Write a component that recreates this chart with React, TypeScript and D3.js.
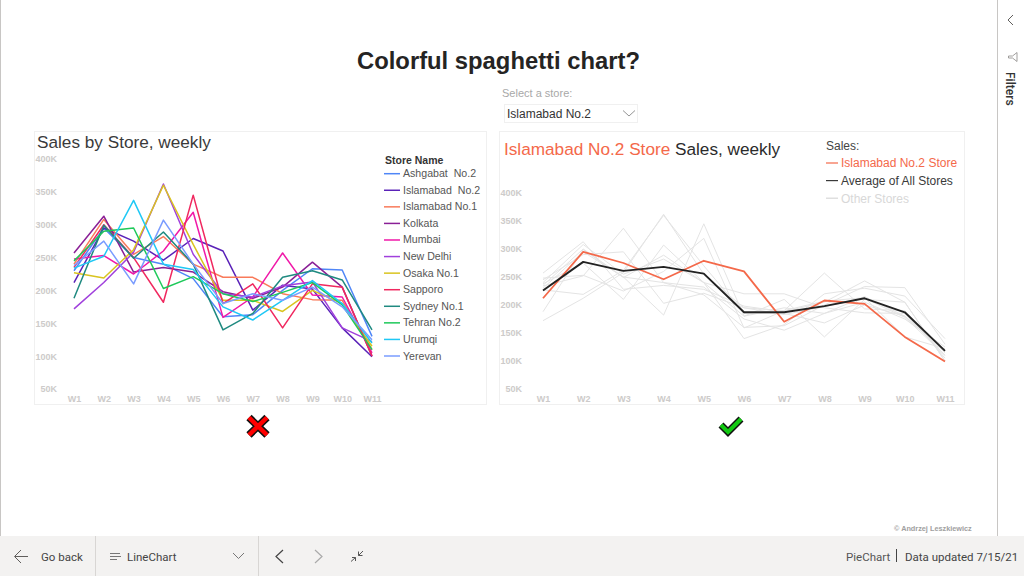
import React, { useEffect, useRef } from "react";
import * as d3 from "d3";

const weeks = ["W1", "W2", "W3", "W4", "W5", "W6", "W7", "W8", "W9", "W10", "W11"];
const yTicks = [50000, 100000, 150000, 200000, 250000, 300000, 350000, 400000];

const stores = [
  "Ashgabat  No.2",
  "Islamabad  No.2",
  "Islamabad No.1",
  "Kolkata",
  "Mumbai",
  "New Delhi",
  "Osaka No.1",
  "Sapporo",
  "Sydney No.1",
  "Tehran No.2",
  "Urumqi",
  "Yerevan",
];
const storeColors = [
  "#4f86f7", "#5a22b8", "#f97a5a", "#8a1f96", "#f018a8", "#a040dc",
  "#d9c41f", "#f0285f", "#1f8a80", "#1ec95a", "#1fc8f5", "#7a9cff",
];

// values in thousands
const ashgabat = [230, 295, 250, 240, 218, 160, 163, 200, 233, 231, 130];
const islamabad2 = [212, 295, 275, 246, 279, 260, 170, 208, 202, 143, 99];
const islamabad1 = [240, 308, 255, 282, 240, 220, 220, 195, 186, 185, 110];
const kolkata = [257, 313, 228, 235, 228, 198, 188, 205, 243, 205, 100];
const mumbai = [248, 253, 225, 260, 319, 159, 190, 257, 193, 190, 105];
const newDelhi = [172, 212, 258, 362, 255, 195, 190, 207, 213, 143, 122];
const osaka = [227, 219, 262, 360, 270, 185, 185, 168, 200, 180, 115];
const sapporo = [235, 300, 250, 182, 345, 180, 210, 143, 210, 205, 100];
const sydney = [188, 299, 249, 289, 240, 140, 165, 220, 230, 216, 140];
const tehran = [245, 290, 295, 203, 221, 195, 183, 197, 212, 178, 110];
const urumqi = [234, 252, 337, 240, 232, 175, 155, 185, 215, 180, 120];
const yerevan = [238, 275, 210, 307, 240, 180, 195, 185, 205, 175, 125];
const average = [226, 277, 261, 268, 256, 187, 187, 198, 212, 187, 118];

const storeValues = [
  ashgabat, islamabad2, islamabad1, kolkata, mumbai, newDelhi,
  osaka, sapporo, sydney, tehran, urumqi, yerevan,
];

const ORANGE = "#f4694a";
const FONT = "'Liberation Sans', Arial, sans-serif";
const UI_FONT = "Roboto, 'Open Sans', sans-serif";

type Sel = d3.Selection<SVGGElement, unknown, null, undefined>;

function makeScales(x0: number, x1: number, yBottom: number, yTop: number) {
  const x = d3.scalePoint<string>().domain(weeks).range([x0, x1]);
  const y = d3.scaleLinear().domain([50, 400]).range([yBottom, yTop]);
  return { x, y };
}

function drawAxes(g: Sel, x: d3.ScalePoint<string>, y: d3.ScaleLinear<number, number>, labelX: number, labelY: number) {
  const yAxis = g
    .append("g")
    .attr("transform", `translate(${labelX},0)`)
    .call(
      d3
        .axisLeft(y)
        .tickValues(yTicks.map((t) => t / 1000))
        .tickSize(0)
        .tickPadding(0)
        .tickFormat((d) => `${d}K`)
    );
  const xAxis = g
    .append("g")
    .attr("transform", `translate(0,${labelY})`)
    .call(d3.axisBottom(x).tickSize(0).tickPadding(0));
  [yAxis, xAxis].forEach((a) => {
    a.select(".domain").remove();
    a.selectAll("text")
      .style("font-family", FONT)
      .style("font-size", "9px")
      .style("font-weight", "bold")
      .attr("fill", "#cdcbca");
  });
}

function drawLine(g: Sel, x: d3.ScalePoint<string>, y: d3.ScaleLinear<number, number>, values: number[], color: string, width: number) {
  const line = d3
    .line<number>()
    .x((_, i) => x(weeks[i])!)
    .y((d) => y(d));
  g.append("path")
    .attr("d", line(values)!)
    .attr("fill", "none")
    .attr("stroke", color)
    .attr("stroke-width", width)
    .attr("stroke-linejoin", "round");
}

function addText(g: Sel, x: number, y: number, text: string, size: number, color: string, extra?: { weight?: string; font?: string; anchor?: string }) {
  return g
    .append("text")
    .attr("x", x)
    .attr("y", y)
    .attr("fill", color)
    .attr("text-anchor", extra?.anchor ?? "start")
    .style("font-family", extra?.font ?? FONT)
    .style("font-size", `${size}px`)
    .style("font-weight", extra?.weight ?? "normal")
    .style("white-space", "pre")
    .text(text);
}

function addPath(g: Sel, d: string, color: string, width: number, fill = "none") {
  g.append("path")
    .attr("d", d)
    .attr("fill", fill)
    .attr("stroke", color)
    .attr("stroke-width", width);
}

const App: React.FC = () => {
  const ref = useRef<SVGSVGElement | null>(null);

  useEffect(() => {
    const svg = d3.select(ref.current);
    svg.selectAll("*").remove();
    const root = svg.append("g") as unknown as Sel;

    // page frame
    root.append("rect").attr("width", 1024).attr("height", 576).attr("fill", "#fff");
    root.append("rect").attr("x", 0).attr("y", 0).attr("width", 1).attr("height", 536).attr("fill", "#c8c6c4");
    root.append("rect").attr("x", 997).attr("y", 0).attr("width", 1).attr("height", 536).attr("fill", "#c8c6c4");

    addText(root, 498.5, 69, "Colorful spaghetti chart?", 23.8, "#252423", { weight: "bold", anchor: "middle" });

    // slicer
    addText(root, 502, 97, "Select a store:", 11, "#a8a8a8");
    root.append("rect").attr("x", 504.5).attr("y", 104.5).attr("width", 133).attr("height", 18)
      .attr("fill", "#fff").attr("stroke", "#f0f0f0");
    addText(root, 507, 118, "Islamabad No.2", 12, "#333");
    addPath(root, "M623,110.5 L629,116 L635,110.5", "#777", 0.8);

    // cards
    [[34, 452], [499, 465]].forEach(([cx, cw]) => {
      root.append("rect").attr("x", cx + 0.5).attr("y", 131.5).attr("width", cw).attr("height", 273)
        .attr("fill", "#fff").attr("stroke", "#f0f0f0");
    });

    // left chart
    const left = makeScales(74, 372, 389, 159);
    const lg = root.append("g") as unknown as Sel;
    addText(lg, 37, 147.5, "Sales by Store, weekly", 17.2, "#3a3a3a");
    drawAxes(lg, left.x, left.y, 57, 396);
    storeValues.forEach((v, i) => drawLine(lg, left.x, left.y, v, storeColors[i], 1.5));

    addText(lg, 385, 163.5, "Store Name", 10.5, "#333", { weight: "bold" });
    const legendY = d3.scaleLinear().domain([0, stores.length - 1]).range([173.7, 356]);
    stores.forEach((s, i) => {
      const ly = legendY(i);
      lg.append("line").attr("x1", 384).attr("x2", 400).attr("y1", ly).attr("y2", ly)
        .attr("stroke", storeColors[i]).attr("stroke-width", 1.5);
      addText(lg, 403, ly + 3.5, s, 10.6, "#555");
    });

    // right chart
    const right = makeScales(543, 945, 389, 193);
    const rg = root.append("g") as unknown as Sel;
    const title = addText(rg, 504, 154.5, "Islamabad No.2 Store", 17.2, ORANGE);
    title.append("tspan").attr("fill", "#2b2b2b").text(" Sales, weekly");
    drawAxes(rg, right.x, right.y, 522, 396);
    storeValues.forEach((v, i) => {
      if (i !== 1) drawLine(rg, right.x, right.y, v, "#e4e4e4", 1);
    });
    drawLine(rg, right.x, right.y, islamabad2, ORANGE, 1.8);
    drawLine(rg, right.x, right.y, average, "#222", 1.9);

    addText(rg, 826, 150, "Sales:", 12, "#444");
    const rightLegend: [string, string][] = [
      ["Islamabad No.2 Store", ORANGE],
      ["Average of All Stores", "#3a3a3a"],
      ["Other Stores", "#d8d8d8"],
    ];
    rightLegend.forEach(([label, color], i) => {
      const ly = 163 + i * 17.6;
      rg.append("line").attr("x1", 826).attr("x2", 838).attr("y1", ly).attr("y2", ly)
        .attr("stroke", color).attr("stroke-width", 1.2);
      addText(rg, 841, ly + 4.3, label, 12, color);
    });

    // cross and check
    addPath(root, "M249,417.5 L267,435 M267,417.5 L249,435", "#111", 7.5);
    addPath(root, "M249,417.5 L267,435 M267,417.5 L249,435", "#ff0000", 4.5);
    addPath(root, "M721,425 L728,432 L741,419", "#111", 7);
    addPath(root, "M721,425 L728,432 L741,419", "#12c912", 4);

    addText(root, 894, 531, "© Andrzej Leszkiewicz", 7.3, "#a0a0a0", { weight: "bold" });

    // filter pane
    addPath(root, "M1013,15 L1008,20 L1013,25", "#605e5c", 1);
    addPath(root, "M1017,52.5 L1012.5,56 L1008.5,56 L1008.5,58 L1012.5,58 L1017,61.5 Z", "#8a8886", 0.8);
    addText(root, 0, 0, "Filters", 12, "#333", { font: UI_FONT, weight: "500" })
      .attr("transform", "translate(1006,72) rotate(90)");

    // footer bar
    root.append("rect").attr("x", 0).attr("y", 536).attr("width", 1024).attr("height", 40).attr("fill", "#f3f2f1");
    [95.5, 258.5].forEach((sx) => {
      root.append("line").attr("x1", sx).attr("x2", sx).attr("y1", 536).attr("y2", 576).attr("stroke", "#d8d6d4");
    });
    addPath(root, "M28,556.5 L15,556.5 M21,550 L14.5,556.5 L21,563", "#605e5c", 1);
    addText(root, 41, 561, "Go back", 11.5, "#444", { font: UI_FONT });
    addPath(root, "M110,553.5 L120,553.5 M110,556.5 L121,556.5 M110,559.5 L117,559.5", "#777", 1);
    addText(root, 127, 561, "LineChart", 11.5, "#444", { font: UI_FONT });
    addPath(root, "M233,553 L238.5,558.5 L244,553", "#777", 1);
    addPath(root, "M283,550 L276,556.5 L283,563", "#444", 1.2);
    addPath(root, "M315,550 L322,556.5 L315,563", "#aaa", 1.2);
    addPath(root, "M363,551 L358.5,555.5 M358.5,551.5 L358.5,555.5 L362.5,555.5 M351,561.5 L355.5,557.5 M355.5,561 L355.5,557.5 L352,557.5", "#555", 1);
    addText(root, 846, 561, "PieChart", 11.5, "#555", { font: UI_FONT });
    root.append("line").attr("x1", 896.5).attr("x2", 896.5).attr("y1", 549).attr("y2", 562).attr("stroke", "#444");
    addText(root, 905, 561, "Data updated 7/15/21", 11.5, "#444", { font: UI_FONT });
  }, []);

  return (
    <>
      <style>{"body{margin:0}"}</style>
      <svg ref={ref} width={1024} height={576} style={{ display: "block" }} />
    </>
  );
};

export default App;
